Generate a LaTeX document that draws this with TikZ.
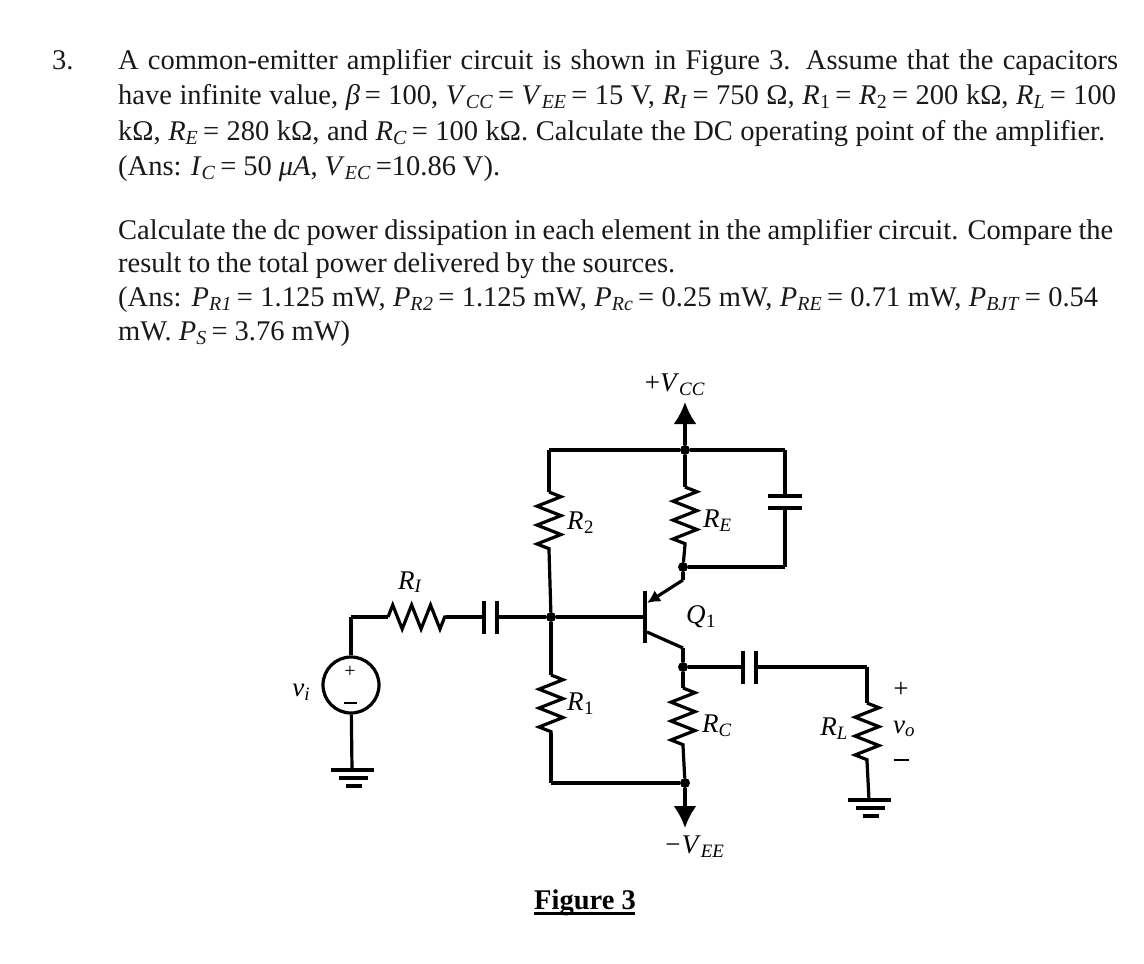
\documentclass[tikz,border=0pt]{standalone}
\usepackage{fontspec}
\setmainfont{Liberation Serif}
\usepackage{tikz}
\usetikzlibrary{positioning}
\usetikzlibrary{decorations.pathmorphing, arrows.meta}
\newcommand{\ital}[2]{\textit{#1}\textsubscript{\textit{#2}}}
\newcommand{\sline}[2]{\makebox[#1pt][s]{#2}}
\tikzset{
  wire/.style={line width=3.2pt, line join=miter},
  res/.style={line width=3.2pt, decorate, decoration={zigzag, segment length=18.9pt, amplitude=12pt}},
  dot/.style={circle, fill=black, inner sep=0pt, minimum size=10pt},
  vbar/.style={rectangle, fill=black, inner sep=0pt, minimum width=3.2pt, minimum height=#1},
  hbar/.style={rectangle, fill=black, inner sep=0pt, minimum height=3.2pt, minimum width=#1},
  lbl/.style={inner sep=0pt, font=\fontsize{27}{30}\selectfont},
  txt/.style={inner sep=0pt, anchor=base west, text=black!90, font=\fontsize{28.5}{33}\selectfont},
  bigtip/.style={-{Latex[length=22pt, width=23pt]}, line width=3.2pt}
}
\begin{document}
\begin{tikzpicture}[x=1pt, y=-1pt]
    \useasboundingbox (0,0) rectangle (1144,964);
    % question text
    \node[txt] (num) at (52,69) {3.};
    \node[txt] (q1) at (118,69) {\sline{1000}{A common-emitter amplifier circuit is shown in Figure 3.  Assume that the capacitors}};
    \node[txt] (q2) at (118,104) {\sline{998}{have infinite value, \textit{β}\,= 100, \ital{V}{CC}\,= \ital{V}{EE}\,= 15 V, \ital{R}{I}\,= 750 Ω, \ital{R}{}\textsubscript{1}\,= \ital{R}{}\textsubscript{2}\,= 200 kΩ, \ital{R}{L}\,= 100}};
    \node[txt] (q3) at (118,140) {\sline{987}{kΩ, \ital{R}{E}\,= 280 kΩ, and \ital{R}{C}\,= 100 kΩ.  Calculate the DC operating point of the amplifier.}};
    \node[txt] (q4) at (118,175) {\sline{382}{(Ans: \ital{I}{C}\,= 50 \textit{μA}, \ital{V}{EC}\,=10.86 V).}};
    \node[txt] (p1) at (118,239) {\sline{995}{Calculate the dc power dissipation in each element in the amplifier circuit. Compare the}};
    \node[txt] (p2) at (118,272) {\sline{557}{result to the total power delivered by the sources.}};
    \node[txt] (p3) at (118,306) {\sline{980}{(Ans: \ital{P}{R}\textsubscript{\textit{1}}\,= 1.125 mW, \ital{P}{R}\textsubscript{\textit{2}}\,= 1.125 mW, \ital{P}{Rc}\,= 0.25 mW, \ital{P}{RE}\,= 0.71 mW, \ital{P}{BJT}\,= 0.54}};
    \node[txt] (p4) at (118,340) {\sline{232}{mW. \ital{P}{S}\,= 3.76 mW)}};
    % junctions
    \node[dot] (jtop) at (685,450) {};
    \node[dot] (jbase) at (551,617) {};
    \node[dot] (jemit) at (683,567) {};
    \node[dot] (jcoll) at (683,667) {};
    \node[dot] (jbot) at (685,783) {};
    \coordinate (tl) at (549,450);
    \coordinate (tr) at (785,450);
    \coordinate (el) at (785,567);
    \coordinate (bl) at (551,783);
    \coordinate (vcc) at (685,402);
    \coordinate (vee) at (685,828);
    % resistors
    \coordinate (r2a) at (549,492);
    \coordinate (r2b) at (549,550);
    \coordinate (r1a) at (551,675);
    \coordinate (r1b) at (551,733);
    \coordinate (rea) at (685,487);
    \coordinate (reb) at (685,545);
    \coordinate (rca) at (683,688);
    \coordinate (rcb) at (683,746);
    \coordinate (ria) at (388,617);
    \coordinate (rib) at (446,617);
    \coordinate (rla) at (867,703);
    \coordinate (rlb) at (867,761);
    % capacitors
    \node[vbar=33pt] (c1a) at (484,617) {};
    \node[vbar=33pt] (c1b) at (497,617) {};
    \node[hbar=34pt] (c2a) at (785,496) {};
    \node[hbar=34pt] (c2b) at (785,508) {};
    \node[vbar=33pt] (c3a) at (743,667) {};
    \node[vbar=33pt] (c3b) at (756,667) {};
    % transistor
    \node[vbar=52pt] (qbar) at (645,617) {};
    \coordinate (qe1) at (647,603);
    \coordinate (qe2) at (683,580);
    \coordinate (qc1) at (647,632);
    \coordinate (qc2) at (683,648);
    % source and grounds
    \node[circle, draw, line width=3.2pt, inner sep=0pt, minimum size=56pt] (src) at (351,685) {};
    \node[font=\fontsize{20}{20}\selectfont, inner sep=0pt] (srcp) at (350,672) {+};
    \node[hbar=13pt, minimum height=2.5pt] (srcm) at (350,703) {};
    \coordinate (tlsrc) at (351,617);
    \node[hbar=43pt] (g1a) at (352,770) {};
    \node[hbar=29pt] (g1b) at (353,778) {};
    \node[hbar=16pt] (g1c) at (354,786) {};
    \node[hbar=43pt] (g2a) at (869,800) {};
    \node[hbar=29pt] (g2b) at (870,808) {};
    \node[hbar=16pt] (g2c) at (871,816) {};
    \coordinate (ov) at (867,667);
    % wires
    \path[every edge/.style={draw, wire}]
      (tl) edge (jtop)
      (jtop) edge (tr)
      (tl) edge (r2a)
      (r2b) edge (jbase)
      (jbase) edge (r1a)
      (r1b) edge (bl)
      (bl) edge (jbot)
      (jtop) edge (rea)
      (reb) edge (jemit)
      (jemit) edge (el)
      (el) edge (c2b)
      (c2a) edge (tr)
      (jemit) edge (qe2)
      (qc1) edge (qc2)
      (qc2) edge (jcoll)
      (jcoll) edge (rca)
      (rcb) edge (jbot)
      (jcoll) edge (c3a)
      (c3b) edge (ov)
      (ov) edge (rla)
      (rlb) edge (g2a)
      (jbase) edge (qbar)
      (jbase) edge (c1b)
      (c1a) edge (rib)
      (ria) edge (tlsrc)
      (tlsrc) edge (src)
      (src) edge (g1a);
    \path[every edge/.style={draw, res}]
      (r2a) edge (r2b)
      (r1a) edge (r1b)
      (rea) edge (reb)
      (rca) edge (rcb)
      (ria) edge (rib)
      (rla) edge (rlb);
    \draw[bigtip] (jtop) -- (vcc);
    \draw[bigtip] (jbot) -- (vee);
    \draw[-{Latex[length=13pt, width=13pt]}, line width=3.2pt] (qe2) -- (qe1);
    % labels
    \node[lbl] (lvcc) [above=6pt of vcc, xshift=-10pt] {+\ital{V}{CC}};
    \node[lbl] (lvee) [below=8pt of vee, xshift=9pt] {\textit{−}\ital{V}{EE}};
    \node[lbl] (lr2) [below right=20pt and 18pt of r2a] {\ital{R}{}\textsubscript{2}};
    \node[lbl] (lr1) [below right=18pt and 16pt of r1a] {\ital{R}{}\textsubscript{1}};
    \node[lbl] (lre) [below right=23pt and 18pt of rea] {\ital{R}{E}};
    \node[lbl] (lrc) [below right=27pt and 19pt of rca] {\ital{R}{C}};
    \node[lbl] (lri) [above right=24pt and 10pt of ria] {\ital{R}{I}};
    \node[lbl] (lrl) [below left=15pt and 19pt of rla] {\ital{R}{L}};
    \node[lbl] (lq) [right=41pt of qbar.center] {\ital{Q}{}\textsubscript{1}};
    \node[lbl] (lvi) [left=11pt of src, yshift=-7pt] {\ital{v}{i}};
    \node[lbl] (lvo) at (904,729) {\ital{v}{o}};
    \node[lbl] (lop) at (901,690) {+};
    \node[hbar=15pt, minimum height=2pt] (lom) at (901,760) {};
    \node[inner sep=0pt, font=\fontsize{28.5}{33}\selectfont\bfseries] (fig) at (585,903) {\rlap{\rule[-5pt]{101pt}{2.4pt}}Figure 3};
\end{tikzpicture}
\end{document}
